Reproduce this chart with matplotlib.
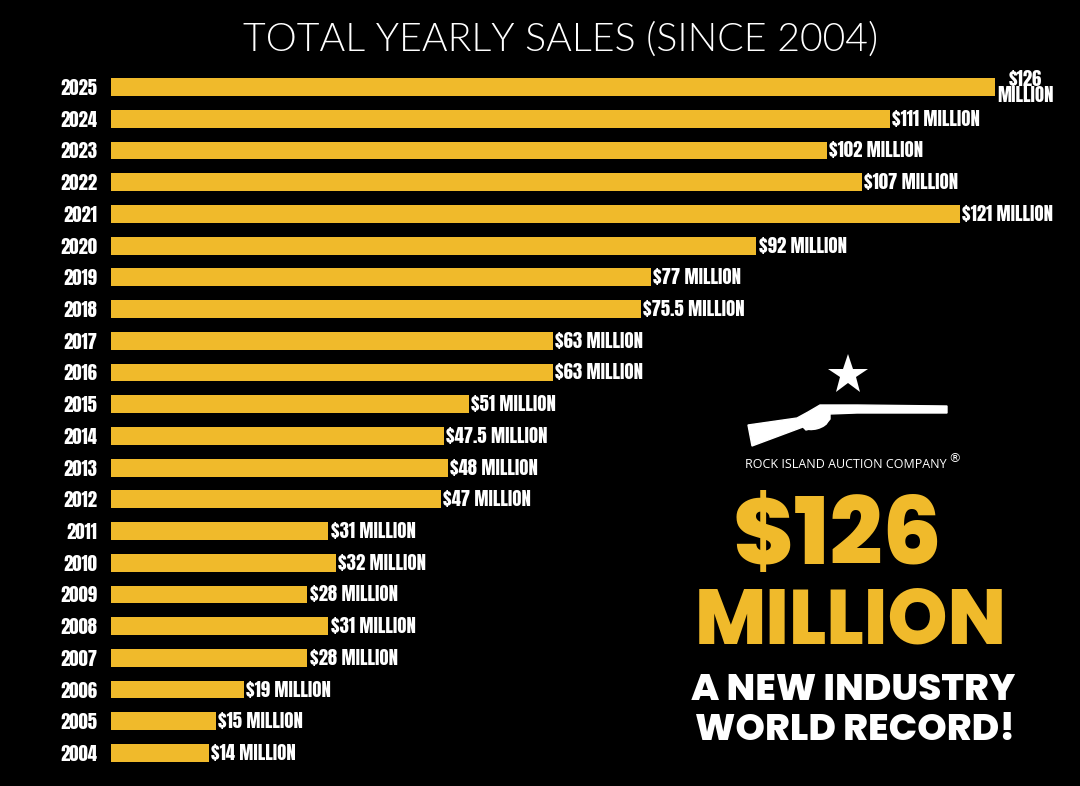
import matplotlib
matplotlib.use("Agg")
import matplotlib.pyplot as plt
from matplotlib.patches import Polygon, Ellipse
from matplotlib import font_manager
from matplotlib.font_manager import FontProperties

years = [2004, 2005, 2006, 2007, 2008, 2009, 2010, 2011, 2012, 2013, 2014,
         2015, 2016, 2017, 2018, 2019, 2020, 2021, 2022, 2023, 2024, 2025]
sales = [14, 15, 19, 28, 31, 28, 32, 31, 47, 48, 47.5,
         51, 63, 63, 75.5, 77, 92, 121, 107, 102, 111, 126]
labels = ["$14 MILLION", "$15 MILLION", "$19 MILLION", "$28 MILLION", "$31 MILLION",
          "$28 MILLION", "$32 MILLION", "$31 MILLION", "$47 MILLION", "$48 MILLION",
          "$47.5 MILLION", "$51 MILLION", "$63 MILLION", "$63 MILLION", "$75.5 MILLION",
          "$77 MILLION", "$92 MILLION", "$121 MILLION", "$107 MILLION", "$102 MILLION",
          "$111 MILLION", "$126\nMILLION"]


def wnum(w):
    try:
        return int(w)
    except (TypeError, ValueError):
        return {"normal": 400, "regular": 400, "bold": 700, "light": 300}.get(str(w), 400)


# variable fonts ignore weight, so look for a static file of the wanted weight
def pick_font(cands, tol=100):
    ttf = font_manager.fontManager.ttflist
    for name, weight in cands:
        ents = [f for f in ttf if f.name == name and f.style == "normal"]
        if not ents:
            continue
        best = min(ents, key=lambda f: abs(wnum(f.weight) - weight))
        if abs(wnum(best.weight) - weight) <= tol:
            return FontProperties(fname=best.fname)
    return FontProperties(family="DejaVu Sans", weight="bold")


narrow = pick_font([("Oswald", 700), ("Oswald", 600), ("Anton", 400),
                    ("Roboto Condensed", 700)])
thin = pick_font([("Jost Light", 300), ("Jost", 300), ("Josefin Sans Light", 300),
                  ("Josefin Sans", 300), ("Poppins", 200), ("Lato", 300)], tol=0)
heavy = pick_font([("Montserrat Black", 900), ("Montserrat ExtraBold", 800),
                   ("Montserrat", 900), ("Montserrat", 800), ("Poppins", 800),
                   ("Lato", 900)], tol=0)
plain = pick_font([("Open Sans", 400), ("Lato", 400)])

bar_color = "#F0BA2B"

fig = plt.figure(figsize=(10.8, 7.86), dpi=100, facecolor="black")

ax = fig.add_axes([111 / 1080, 1 - 768.9 / 786, 884 / 1080, 697.7 / 786])
ax.set_facecolor("black")
pos = list(range(len(years)))
ax.barh(pos, sales, height=0.56, color=bar_color)
ax.set_xlim(0, 126)
ax.set_ylim(-0.5, len(years) - 0.5)
ax.set_yticks(pos)
ax.set_yticklabels([str(y) for y in years], color="white", fontproperties=narrow,
                   fontsize=13.5)
ax.tick_params(axis="y", length=0, pad=10)
ax.set_xticks([])
for s in ax.spines.values():
    s.set_visible(False)
for p, v, lab in zip(pos, sales, labels):
    ax.text(v + 0.3, p, lab, color="white", fontproperties=narrow, fontsize=13.5,
            va="center", ha="left", multialignment="center", linespacing=0.85)

# logo and headline, pixel coordinates
ov = fig.add_axes([0, 0, 1, 1], facecolor="none")
ov.set_xlim(0, 1080)
ov.set_ylim(786, 0)
ov.axis("off")

ov.text(561, 40, "TOTAL YEARLY SALES (SINCE 2004)", color="white",
        fontproperties=thin, fontsize=28.3, ha="center", va="center")

rifle = [(748, 425), (797, 418), (808, 412), (820, 405), (857, 405), (947, 406),
         (947, 413), (857, 413), (830, 414), (830, 419), (826, 424), (818, 427),
         (806, 430), (803, 427), (752, 446)]
ov.add_patch(Polygon(rifle, closed=True, color="white"))
ov.add_patch(Ellipse((816, 424), 22, 9, angle=-15, fill=False, ec="white", lw=1.5))
ov.plot([848], [375], marker="*", markersize=30, color="white", markeredgewidth=0)
ov.text(846, 465, "ROCK ISLAND AUCTION COMPANY", color="white",
        fontproperties=plain, fontsize=9, ha="center", va="center")
ov.text(955, 459, "®", color="white", fontsize=9, ha="center", va="center")

ov.text(837, 542, "$126", color=bar_color, fontproperties=heavy, fontsize=67,
        ha="center", va="center")
ov.text(851, 626, "MILLION", color=bar_color, fontproperties=heavy, fontsize=55,
        ha="center", va="center")
ov.text(853, 692, "A NEW INDUSTRY", color="white", fontproperties=heavy,
        fontsize=27, ha="center", va="center")
ov.text(855, 731, "WORLD RECORD!", color="white", fontproperties=heavy,
        fontsize=27, ha="center", va="center")

fig.savefig("out.png", dpi=100, facecolor="black")
